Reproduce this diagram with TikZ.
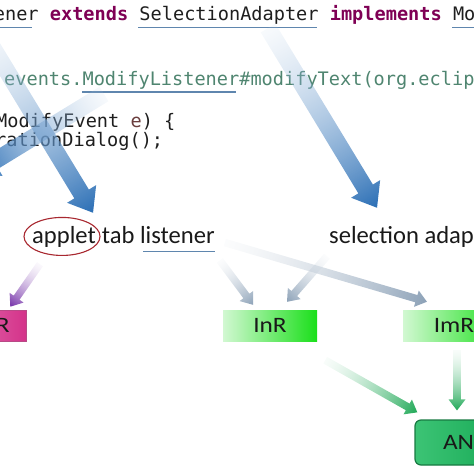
\documentclass[tikz,border=0pt]{standalone}
\usepackage{fontspec}
\setmainfont{Carlito}
\newfontfamily\codefont{DejaVu Sans Mono}
\newfontfamily\boxfont[FakeStretch=1.15]{Carlito}
\usepackage{xcolor}
\usetikzlibrary{calc}
\usetikzlibrary{fadings}

\definecolor{kwpurple}{HTML}{7F0055}
\definecolor{docgreen}{HTML}{4F8570}
\definecolor{parbrown}{HTML}{6A3E3E}
\definecolor{codeblack}{HTML}{1E1E1E}
\definecolor{ulblue}{HTML}{5F86AE}
\definecolor{arrowblue}{HTML}{2A6EB5}
\definecolor{arrowgray}{HTML}{8CA1B7}
\definecolor{arrowpurple}{HTML}{7430A8}
\definecolor{arrowgreen}{HTML}{1FA856}
\definecolor{ovalred}{HTML}{A82830}
\definecolor{greenL}{HTML}{D2F8D2}
\definecolor{greenR}{HTML}{1ADF1A}
\definecolor{pinkL}{HTML}{E883BC}
\definecolor{pinkR}{HTML}{D4338A}
\definecolor{pinkD}{HTML}{B84A86}
\definecolor{anrL}{HTML}{3CC475}
\definecolor{anrR}{HTML}{14A652}
\definecolor{anrD}{HTML}{187A42}

\tikzfading[name=tailfade, left color=transparent!90, right color=transparent!0]

\newcommand{\kw}[1]{\textcolor{kwpurple}{\bfseries #1}}

% fat shaded arrow: style, from, to, half shaft, half head, head length
\newcommand{\fatarrow}[6]{%
  \path let \p1=(#2), \p2=(#3) in \pgfextra{%
    \xdef\faX{\x1}\xdef\faY{\y1}%
    \pgfmathparse{atan2(\y2-\y1,\x2-\x1)}\xdef\faAng{\pgfmathresult}%
    \pgfmathparse{veclen(\x2-\x1,\y2-\y1)}\xdef\faLen{\pgfmathresult}};
  \begin{scope}[transform canvas={shift={(\faX,\faY)},rotate=\faAng}]
    \shade[#1] (0pt,#4pt) -- ({\faLen pt-#6pt},#4pt) -- ({\faLen pt-#6pt},#5pt)
      -- (\faLen pt,0pt) -- ({\faLen pt-#6pt},-#5pt) -- ({\faLen pt-#6pt},-#4pt)
      -- (0pt,-#4pt) -- cycle;
  \end{scope}}

\tikzset{
  code/.style={anchor=base west, inner sep=0pt, text=codeblack,
    font=\codefont\fontsize{18.6}{22}\selectfont},
  codeline/.style={draw=ulblue, line width=1.1pt},
  lbl/.style={anchor=base west, inner sep=0pt, text=black!90,
    font=\fontsize{24.6}{28}\selectfont},
  oval/.style={draw=ovalred, line width=1.1pt},
  relbox/.style={minimum height=31pt, inner ysep=0pt, text=black!90,
    font=\boxfont\fontsize{22}{26}\selectfont},
  greenbox/.style={relbox, left color=greenL, right color=greenR},
  pinkbox/.style={relbox, left color=pinkL, right color=pinkR, draw=pinkD, line width=0.6pt},
  anrbox/.style={relbox, left color=anrL, right color=anrR, draw=anrD, line width=1.2pt,
    rounded corners=6pt, minimum height=45pt},
  bluefade/.style={left color=arrowblue!35, right color=arrowblue, path fading=tailfade},
  grayfade/.style={left color=arrowgray!30, right color=arrowgray, path fading=tailfade},
  purplefade/.style={left color=arrowpurple!30, right color=arrowpurple, path fading=tailfade},
  greenfade/.style={left color=arrowgreen!30, right color=arrowgreen, path fading=tailfade}
}

\begin{document}
\begin{tikzpicture}[x=1pt, y=-1pt]
  \useasboundingbox (0,0) rectangle (474,474);
  \clip (0,0) rectangle (474,474);
  % code
  \node[code] (code1) at (-6.3,20) {ener \kw{extends} SelectionAdapter \kw{implements} Mo};
  \node[code, text=docgreen] (code2) at (4,85) {events.ModifyListener\#modifyText(org.eclip};
  \node[code] (code3) at (-4,127) {ModifyEvent \textcolor{parbrown}{e}) \{};
  \node[code] (code4) at (-5,146) {rationDialog();};
  \draw[codeline] (0,27.5) -- (32,27.5);
  \draw[codeline] (138,27.5) -- (317,27.5);
  \draw[codeline] (452,27.5) -- (474,27.5);
  \draw[codeline] (82,92) -- (236,92);
  % labels
  \node[lbl] (appl) at (32,243) {applet};
  \node[lbl] (tabl) at ([xshift=5.6pt]appl.base east) {tab listener};
  \node[lbl] (sel) at (329,243) {selection adap};
  \draw[oval] ([xshift=-2pt]appl.center) ellipse [x radius=38, y radius=19];
  \draw[codeline, line width=1pt] (143,251) -- (215,251);
  % relations
  \node[pinkbox, text width=61pt, align=right, inner xsep=16.5pt] (lR) at (-21,325.5) {R};
  \node[greenbox, minimum width=94pt] (inr) at (270,325.5) {InR};
  \node[greenbox, minimum width=102pt] (imr) at (454,325.5) {ImR};
  \node[anrbox, text width=42pt, align=left, inner xsep=28pt] (anr) at (464,442.5) {AN};
  % big arrows
  \coordinate (c1) at (-18,30);
  \coordinate (c2) at (104,94);
  \coordinate (c3) at (-25,173);
  \coordinate (c4) at (268,28);
  \fatarrow{bluefade}{c1}{$(appl.north)+(29,-13)$}{8.5}{17}{22}
  \fatarrow{bluefade}{c2}{c3}{8.5}{17}{22}
  \fatarrow{bluefade}{c4}{$(sel.north west)+(48,-18)$}{8.5}{17}{22}
  % small arrows
  \fatarrow{purplefade}{$(appl.south)+(-24,17)$}{$(lR.north east)+(-16,-3)$}{3.6}{8.5}{11}
  \fatarrow{grayfade}{$(tabl.south east)+(5,17)$}{$(inr.north)+(-17,-5)$}{3.8}{8.5}{11}
  \fatarrow{grayfade}{$(tabl.east)+(10,8)$}{$(imr.north)+(-27,-8)$}{3.8}{8.5}{11}
  \fatarrow{grayfade}{$(sel.south west)+(-2,9)$}{$(inr.north)+(17,-8)$}{3.8}{8.5}{11}
  \fatarrow{greenfade}{$(inr.south east)+(8,19)$}{$(anr.north west)+(3,-7)$}{3.8}{8.5}{11}
  \fatarrow{greenfade}{$(imr.south)+(3,9)$}{$(anr.north)+(-7,-9)$}{3.8}{8.5}{11}
\end{tikzpicture}
\end{document}
